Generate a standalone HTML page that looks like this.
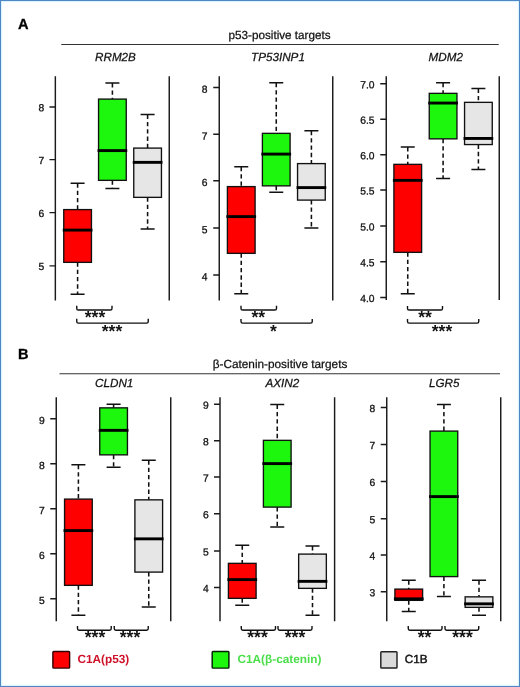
<!DOCTYPE html>
<html><head><meta charset="utf-8"><title>Figure</title>
<style>
html,body{margin:0;padding:0;background:#fff;}
body{width:520px;height:687px;overflow:hidden;position:relative;font-family:"Liberation Sans",sans-serif;}
#frame{position:absolute;left:0;top:0;width:518px;height:685px;border:1px solid #4f87c2;box-shadow:inset 0 0 1.5px 1px #d2f1ff;}
svg{position:absolute;left:0;top:0;}
text{font-family:"Liberation Sans",sans-serif;fill:#111;text-rendering:geometricPrecision;}
.ax{stroke:#1a1a1a;stroke-width:1.45;fill:none;}
.tkm{stroke:#1a1a1a;stroke-width:1.35;fill:none;}
.hl{stroke:#333;stroke-width:1.1;fill:none;}
.wh{stroke:#111;stroke-width:1.55;fill:none;stroke-dasharray:4.4 2.9;}
.cap{stroke:#111;stroke-width:1.5;fill:none;}
.bx{stroke:#111;stroke-width:1.35;}
.md{stroke:#000;stroke-width:2.9;fill:none;}
.br{stroke:#111;stroke-width:1.4;fill:none;stroke-linejoin:round;}
.tk{font-size:10.3px;stroke:#111;stroke-width:0.3;}
.st{font-size:17.5px;font-weight:bold;fill:#111;}
.pl{font-size:14.6px;font-weight:bold;fill:#000;stroke:#000;stroke-width:0.3;}
.hd{font-size:11.7px;stroke:#111;stroke-width:0.25;}
.gn{font-size:11.7px;font-style:italic;stroke:#111;stroke-width:0.25;}
.lg{font-size:11.8px;font-weight:bold;}
</style></head>
<body>
<div id="frame"></div>
<svg width="520" height="687" viewBox="0 0 520 687">
<text x="18.1" y="28.8" class="pl">A</text>
<text x="18.1" y="358.7" class="pl">B</text>
<text x="228.6" y="38.8" class="hd">p53-positive targets</text>
<text x="212.7" y="367.6" class="hd" style="font-size:11.8px">β-Catenin-positive targets</text>
<path d="M61.25 44.5H498.75" class="hl"/>
<path d="M59.5 373.75H500" class="hl"/>
<text x="95" y="60.8" class="gn">RRM2B</text>
<text x="251" y="60.8" class="gn">TP53INP1</text>
<text x="428.5" y="60.8" class="gn">MDM2</text>
<text x="95" y="386.9" class="gn">CLDN1</text>
<text x="265.5" y="386.9" class="gn">AXIN2</text>
<text x="429" y="386.9" class="gn">LGR5</text>
<path d="M55.35 76.25V300.5M169.25 76.25V300.5" class="ax"/>
<path d="M49.5 107.0H55.35M49.5 159.6H55.35M49.5 212.6H55.35M49.5 265.8H55.35" class="tkm"/>
<text x="41.3" y="111.30" transform="rotate(0.03 41.3 107.0)" class="tk" text-anchor="middle">8</text>
<text x="41.3" y="163.90" transform="rotate(0.03 41.3 159.6)" class="tk" text-anchor="middle">7</text>
<text x="41.3" y="216.90" transform="rotate(0.03 41.3 212.6)" class="tk" text-anchor="middle">6</text>
<text x="41.3" y="270.10" transform="rotate(0.03 41.3 265.8)" class="tk" text-anchor="middle">5</text>
<path d="M77.6 183.35V209.6M77.6 262.35V294.35" class="wh"/>
<path d="M70.6 183.35H84.6M70.6 294.35H84.6" class="cap"/>
<rect x="63.75" y="209.6" width="27.7" height="52.75" fill="#ff0000" class="bx"/>
<path d="M62.75 230.1H92.45" class="md"/>
<path d="M112.4 83.1V99.1M112.4 180.35V188.6" class="wh"/>
<path d="M105.4 83.1H119.4M105.4 188.6H119.4" class="cap"/>
<rect x="98.55" y="99.1" width="27.7" height="81.25" fill="#1df60d" class="bx"/>
<path d="M97.55 150.6H127.25" class="md"/>
<path d="M147.6 114.6V148.1M147.6 197.35V229.1" class="wh"/>
<path d="M140.6 114.6H154.6M140.6 229.1H154.6" class="cap"/>
<rect x="133.75" y="148.1" width="27.7" height="49.25" fill="#e6e6e6" class="bx"/>
<path d="M132.75 162.35H162.45" class="md"/>
<path d="M76.75 305.75V308.4Q76.75 310.0 78.35 310.0H110.4Q112 310.0 112 308.4V305.75" class="br"/>
<text x="95" y="322.8" class="st" text-anchor="middle">***</text>
<path d="M76.75 318.75V321.5Q76.75 323.1 78.35 323.1H146.65Q148.25 323.1 148.25 321.5V318.75" class="br"/>
<text x="112" y="337.0" class="st" text-anchor="middle">***</text>
<path d="M219.25 76.25V300.5M332.75 76.25V300.5" class="ax"/>
<path d="M213.25 87.5H219.25M213.25 134.25H219.25M213.25 180.75H219.25M213.25 228H219.25M213.25 275H219.25" class="tkm"/>
<text x="204.7" y="92.70" transform="rotate(0.03 204.7 87.5)" class="tk" text-anchor="middle">8</text>
<text x="204.7" y="139.45" transform="rotate(0.03 204.7 134.2)" class="tk" text-anchor="middle">7</text>
<text x="204.7" y="185.95" transform="rotate(0.03 204.7 180.8)" class="tk" text-anchor="middle">6</text>
<text x="204.7" y="233.20" transform="rotate(0.03 204.7 228.0)" class="tk" text-anchor="middle">5</text>
<text x="204.7" y="280.20" transform="rotate(0.03 204.7 275.0)" class="tk" text-anchor="middle">4</text>
<path d="M241.25 166.85V186.6M241.25 253.35V293.85" class="wh"/>
<path d="M234.25 166.85H248.25M234.25 293.85H248.25" class="cap"/>
<rect x="227.40" y="186.6" width="27.7" height="66.75" fill="#ff0000" class="bx"/>
<path d="M226.40 216.6H256.10" class="md"/>
<path d="M276.25 82.85V133.35M276.25 185.85V192.35" class="wh"/>
<path d="M269.25 82.85H283.25M269.25 192.35H283.25" class="cap"/>
<rect x="262.40" y="133.35" width="27.7" height="52.50" fill="#1df60d" class="bx"/>
<path d="M261.40 154.1H291.10" class="md"/>
<path d="M311.4 130.85V163.6M311.4 200.1V228.1" class="wh"/>
<path d="M304.4 130.85H318.4M304.4 228.1H318.4" class="cap"/>
<rect x="297.55" y="163.6" width="27.7" height="36.50" fill="#e6e6e6" class="bx"/>
<path d="M296.55 187.6H326.25" class="md"/>
<path d="M241 305.75V308.4Q241 310.0 242.6 310.0H274.9Q276.5 310.0 276.5 308.4V305.75" class="br"/>
<text x="258.25" y="322.8" class="st" text-anchor="middle">**</text>
<path d="M241 319V321.5Q241 323.1 242.6 323.1H310.65Q312.25 323.1 312.25 321.5V319" class="br"/>
<text x="273.5" y="337.0" class="st" text-anchor="middle">*</text>
<path d="M386.25 76.25V300M499.25 76.25V300" class="ax"/>
<path d="M380.25 83.75H386.25M380.25 119.25H386.25M380.25 154.75H386.25M380.25 190H386.25M380.25 226H386.25M380.25 261.75H386.25M380.25 297.5H386.25" class="tkm"/>
<text x="374.5" y="88.30" transform="rotate(0.03 374.5 83.8)" class="tk" text-anchor="end">7.0</text>
<text x="374.5" y="123.80" transform="rotate(0.03 374.5 119.2)" class="tk" text-anchor="end">6.5</text>
<text x="374.5" y="159.30" transform="rotate(0.03 374.5 154.8)" class="tk" text-anchor="end">6.0</text>
<text x="374.5" y="194.55" transform="rotate(0.03 374.5 190.0)" class="tk" text-anchor="end">5.5</text>
<text x="374.5" y="230.55" transform="rotate(0.03 374.5 226.0)" class="tk" text-anchor="end">5.0</text>
<text x="374.5" y="266.30" transform="rotate(0.03 374.5 261.8)" class="tk" text-anchor="end">4.5</text>
<text x="374.5" y="302.05" transform="rotate(0.03 374.5 297.5)" class="tk" text-anchor="end">4.0</text>
<path d="M407.75 147.1V164.35M407.75 252.35V293.85" class="wh"/>
<path d="M400.75 147.1H414.75M400.75 293.85H414.75" class="cap"/>
<rect x="393.90" y="164.35" width="27.7" height="88.00" fill="#ff0000" class="bx"/>
<path d="M392.90 180.35H422.60" class="md"/>
<path d="M443.1 82.85V93.35M443.1 138.85V178.6" class="wh"/>
<path d="M436.1 82.85H450.1M436.1 178.6H450.1" class="cap"/>
<rect x="429.25" y="93.35" width="27.7" height="45.50" fill="#1df60d" class="bx"/>
<path d="M428.25 103.05H457.95" class="md"/>
<path d="M478.4 88.6V102.35M478.4 144.54999999999998V169.6" class="wh"/>
<path d="M471.4 88.6H485.4M471.4 169.6H485.4" class="cap"/>
<rect x="464.55" y="102.35" width="27.7" height="42.20" fill="#e6e6e6" class="bx"/>
<path d="M463.55 138.45H493.25" class="md"/>
<path d="M407.5 306V308.4Q407.5 310.0 409.1 310.0H440.9Q442.5 310.0 442.5 308.4V306" class="br"/>
<text x="425" y="322.8" class="st" text-anchor="middle">**</text>
<path d="M407.5 319V321.5Q407.5 323.1 409.1 323.1H477.15Q478.75 323.1 478.75 321.5V319" class="br"/>
<text x="442" y="337.0" class="st" text-anchor="middle">***</text>
<path d="M56.25 397.25V621.25M170.75 397.25V621.25" class="ax"/>
<path d="M50.25 418.75H56.25M50.25 463.75H56.25M50.25 508.75H56.25M50.25 553.75H56.25M50.25 598.75H56.25" class="tkm"/>
<text x="42.0" y="424.05" transform="rotate(0.03 42.0 418.8)" class="tk" text-anchor="middle">9</text>
<text x="42.0" y="469.05" transform="rotate(0.03 42.0 463.8)" class="tk" text-anchor="middle">8</text>
<text x="42.0" y="514.05" transform="rotate(0.03 42.0 508.8)" class="tk" text-anchor="middle">7</text>
<text x="42.0" y="559.05" transform="rotate(0.03 42.0 553.8)" class="tk" text-anchor="middle">6</text>
<text x="42.0" y="604.05" transform="rotate(0.03 42.0 598.8)" class="tk" text-anchor="middle">5</text>
<path d="M78.4 464.85V499.1M78.4 585.35V615.35" class="wh"/>
<path d="M71.4 464.85H85.4M71.4 615.35H85.4" class="cap"/>
<rect x="64.55" y="499.1" width="27.7" height="86.25" fill="#ff0000" class="bx"/>
<path d="M63.55 530.6H93.25" class="md"/>
<path d="M113.6 404.35V407.85M113.6 454.85V467.35" class="wh"/>
<path d="M106.6 404.35H120.6M106.6 467.35H120.6" class="cap"/>
<rect x="99.75" y="407.85" width="27.7" height="47.00" fill="#1df60d" class="bx"/>
<path d="M98.75 430.35H128.45" class="md"/>
<path d="M148.75 460.35V499.85M148.75 572.1V607.1" class="wh"/>
<path d="M141.75 460.35H155.75M141.75 607.1H155.75" class="cap"/>
<rect x="134.90" y="499.85" width="27.7" height="72.25" fill="#e6e6e6" class="bx"/>
<path d="M133.90 538.85H163.60" class="md"/>
<path d="M77.5 625.9V628.6Q77.5 630.2 79.1 630.2H109.65Q111.25 630.2 111.25 628.6V625.9" class="br"/>
<text x="95" y="642.6" class="st" text-anchor="middle">***</text>
<path d="M114.25 625.9V628.6Q114.25 630.2 115.85 630.2H146.65Q148.25 630.2 148.25 628.6V625.9" class="br"/>
<text x="130" y="642.6" class="st" text-anchor="middle">***</text>
<path d="M220.0 397.25V621.25M334.6 397.25V621.25" class="ax"/>
<path d="M214 404.25H220.0M214 440.75H220.0M214 477H220.0M214 513.75H220.0M214 551H220.0M214 587.5H220.0" class="tkm"/>
<text x="205.9" y="408.65" transform="rotate(0.03 205.9 404.2)" class="tk" text-anchor="middle">9</text>
<text x="205.9" y="445.15" transform="rotate(0.03 205.9 440.8)" class="tk" text-anchor="middle">8</text>
<text x="205.9" y="481.40" transform="rotate(0.03 205.9 477.0)" class="tk" text-anchor="middle">7</text>
<text x="205.9" y="518.15" transform="rotate(0.03 205.9 513.8)" class="tk" text-anchor="middle">6</text>
<text x="205.9" y="555.40" transform="rotate(0.03 205.9 551.0)" class="tk" text-anchor="middle">5</text>
<text x="205.9" y="591.90" transform="rotate(0.03 205.9 587.5)" class="tk" text-anchor="middle">4</text>
<path d="M242.25 545.35V563.35M242.25 598.35V605.35" class="wh"/>
<path d="M235.25 545.35H249.25M235.25 605.35H249.25" class="cap"/>
<rect x="228.40" y="563.35" width="27.7" height="35.00" fill="#ff0000" class="bx"/>
<path d="M227.40 579.6H257.10" class="md"/>
<path d="M277.25 404.6V440.35M277.25 507.1V527.1" class="wh"/>
<path d="M270.25 404.6H284.25M270.25 527.1H284.25" class="cap"/>
<rect x="263.40" y="440.35" width="27.7" height="66.75" fill="#1df60d" class="bx"/>
<path d="M262.40 463.6H292.10" class="md"/>
<path d="M312.5 546.1V554.1M312.5 588.35V615.35" class="wh"/>
<path d="M305.5 546.1H319.5M305.5 615.35H319.5" class="cap"/>
<rect x="298.65" y="554.1" width="27.7" height="34.25" fill="#e6e6e6" class="bx"/>
<path d="M297.65 581.35H327.35" class="md"/>
<path d="M241.25 625.9V628.6Q241.25 630.2 242.85 630.2H273.9Q275.5 630.2 275.5 628.6V625.9" class="br"/>
<text x="257.5" y="642.6" class="st" text-anchor="middle">***</text>
<path d="M278 625.9V628.6Q278 630.2 279.6 630.2H310.4Q312 630.2 312 628.6V625.9" class="br"/>
<text x="295" y="642.6" class="st" text-anchor="middle">***</text>
<path d="M386.75 397.25V621.25M500.75 397.25V621.25" class="ax"/>
<path d="M380.75 407.5H386.75M380.75 444.5H386.75M380.75 481.5H386.75M380.75 518.75H386.75M380.75 555H386.75M380.75 591.75H386.75" class="tkm"/>
<text x="372.4" y="412.10" transform="rotate(0.03 372.4 407.5)" class="tk" text-anchor="middle">8</text>
<text x="372.4" y="449.10" transform="rotate(0.03 372.4 444.5)" class="tk" text-anchor="middle">7</text>
<text x="372.4" y="486.10" transform="rotate(0.03 372.4 481.5)" class="tk" text-anchor="middle">6</text>
<text x="372.4" y="523.35" transform="rotate(0.03 372.4 518.8)" class="tk" text-anchor="middle">5</text>
<text x="372.4" y="559.60" transform="rotate(0.03 372.4 555.0)" class="tk" text-anchor="middle">4</text>
<text x="372.4" y="596.35" transform="rotate(0.03 372.4 591.8)" class="tk" text-anchor="middle">3</text>
<path d="M408.75 580.35V589.1M408.75 600.35V611.6" class="wh"/>
<path d="M401.75 580.35H415.75M401.75 611.6H415.75" class="cap"/>
<rect x="394.90" y="589.1" width="27.7" height="11.25" fill="#ff0000" class="bx"/>
<path d="M393.90 598.85H423.60" class="md"/>
<path d="M443.9 404.6V431.1M443.9 576.6V596.6" class="wh"/>
<path d="M436.9 404.6H450.9M436.9 596.6H450.9" class="cap"/>
<rect x="430.05" y="431.1" width="27.7" height="145.50" fill="#1df60d" class="bx"/>
<path d="M429.05 496.6H458.75" class="md"/>
<path d="M479 580.35V596.85M479 607.35V615.35" class="wh"/>
<path d="M472.0 580.35H486.0M472.0 615.35H486.0" class="cap"/>
<rect x="465.15" y="596.85" width="27.7" height="10.50" fill="#e6e6e6" class="bx"/>
<path d="M464.15 603.85H493.85" class="md"/>
<path d="M408.25 625.9V628.6Q408.25 630.2 409.85 630.2H440.4Q442 630.2 442 628.6V625.9" class="br"/>
<text x="424.5" y="642.6" class="st" text-anchor="middle">**</text>
<path d="M445 625.9V628.6Q445 630.2 446.6 630.2H477.15Q478.75 630.2 478.75 628.6V625.9" class="br"/>
<text x="462.5" y="642.6" class="st" text-anchor="middle">***</text>
<rect x="52.9" y="651.5" width="16.7" height="16.6" rx="0.8" fill="#ff0000" stroke="#300" stroke-width="1.45"/>
<text x="77.5" y="663.3" class="lg" style="fill:#cf1029">C1A(p53)</text>
<rect x="212.2" y="651.5" width="16.7" height="16.6" rx="0.8" fill="#1df60d" stroke="#020" stroke-width="1.45"/>
<text x="237.5" y="663.3" class="lg" style="fill:#4ade4a">C1A(β-catenin)</text>
<rect x="380.8" y="651.8" width="16.2" height="16.2" rx="0.8" fill="#dadada" stroke="#222" stroke-width="1.45"/>
<text x="404.8" y="663.2" class="hd" style="stroke-width:0.45">C1B</text>
</svg>
</body></html>
